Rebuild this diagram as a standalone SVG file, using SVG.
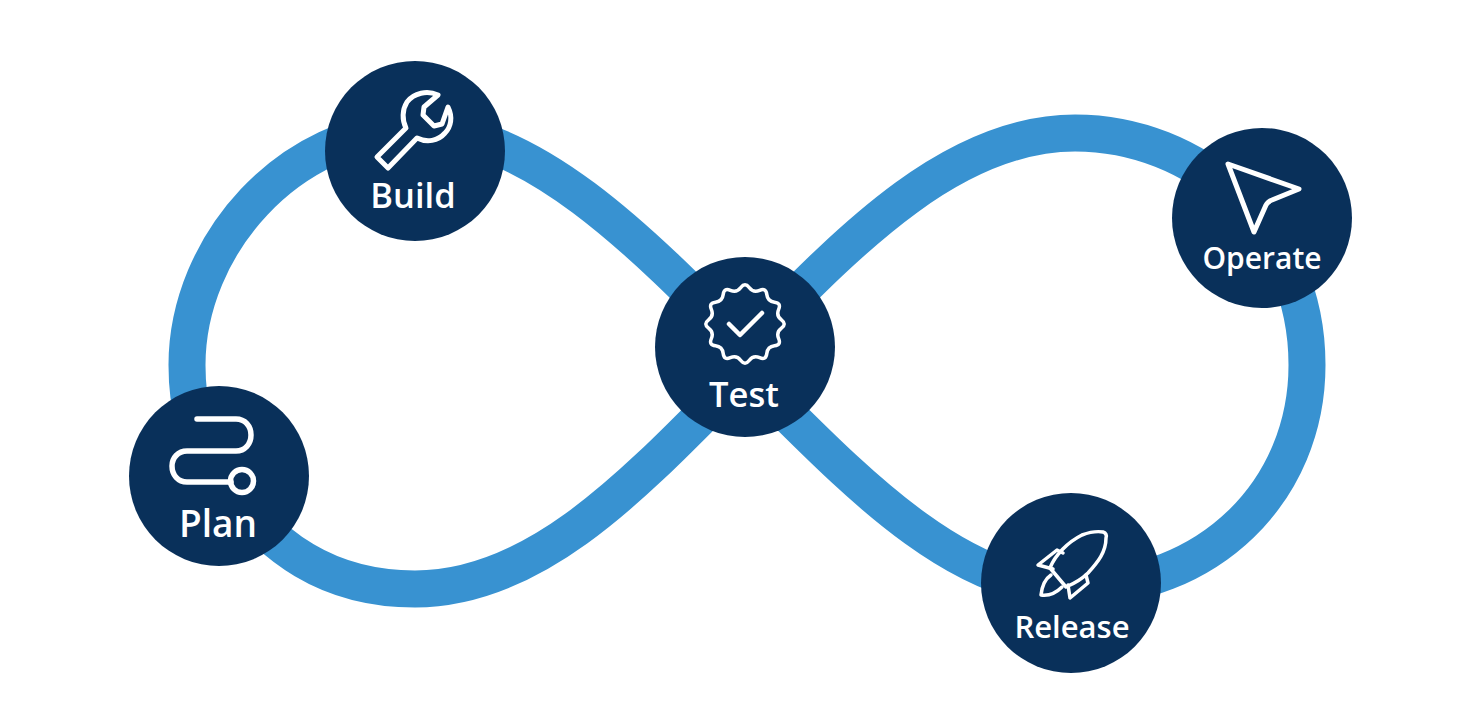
<svg xmlns="http://www.w3.org/2000/svg" width="1481" height="725" viewBox="0 0 1481 725">
<style>
.node{fill:#09305a}
.lbl{font-family:"Open Sans","Noto Sans","Liberation Sans",sans-serif;font-weight:600;fill:#fff;text-anchor:middle}
.ic{fill:none;stroke:#fff;stroke-linecap:round;stroke-linejoin:round}
</style>
<rect width="1481" height="725" fill="#fff"/>
<g id="connectors">
<path fill="none" stroke="#3892d1" stroke-width="37" d="M187,365 C187,245 290,129 415,129 C530,129 640,240 745,347 L745,372 C840,465 950,589 1071,589 C1210,589 1307,490 1307,365 C1307,225 1195,133 1075,133 C950,133 845,245 745,347 L745,372 C640,478 540,589 415,589 C330,589 270,550 219,476 C195,440 187,405 187,365 Z"/>
</g>
<g id="build">
<circle class="node" cx="415" cy="151" r="90"/>
<path class="ic" stroke-width="5" d="M377,157 L406,128 C402,120 402,110 407,102 C414,93 427,90 438,95 L424,107 L423,115 L434,126 L442,124 L448,107 C453,117 451,127 445,133 C438,141 427,143 417,138 L388,168 Z"/>
<text class="lbl" x="413" y="208" font-size="34.5">Build</text>
</g>
<g id="plan">
<circle class="node" cx="219" cy="476" r="90"/>
<path class="ic" stroke-width="5.5" d="M197,419 H236 C245,419 251,426 251,435 C251,444 245,451 236,451 H187 C178,451 172,458 172,466 C172,475 178,482 187,482 H231"/>
<circle class="ic" stroke-width="5.5" cx="242" cy="481" r="11.5"/>
<text class="lbl" x="218" y="537" font-size="37">Plan</text>
</g>
<g id="test">
<circle class="node" cx="745" cy="347" r="90"/>
<path class="ic" transform="translate(745,324)" stroke-width="3.5" d="M4.15,-36.45 Q8.3,-30.9 14.65,-33.65 Q21,-36.4 21.8,-29.5 Q22.6,-22.6 29.5,-21.8 Q36.4,-21 33.65,-14.65 Q30.9,-8.3 36.45,-4.15 Q42,0 36.45,4.15 Q30.9,8.3 33.65,14.65 Q36.4,21 29.5,21.8 Q22.6,22.6 21.8,29.5 Q21,36.4 14.65,33.65 Q8.3,30.9 4.15,36.45 Q0,42 -4.15,36.45 Q-8.3,30.9 -14.65,33.65 Q-21,36.4 -21.8,29.5 Q-22.6,22.6 -29.5,21.8 Q-36.4,21 -33.65,14.65 Q-30.9,8.3 -36.45,4.15 Q-42,0 -36.45,-4.15 Q-30.9,-8.3 -33.65,-14.65 Q-36.4,-21 -29.5,-21.8 Q-22.6,-22.6 -21.8,-29.5 Q-21,-36.4 -14.65,-33.65 Q-8.3,-30.9 -4.15,-36.45 Q0,-42 4.15,-36.45 Z"/>
<path class="ic" stroke-width="4.5" d="M729,324 L740,335 L762,313"/>
<text class="lbl" x="744" y="407" font-size="34.5">Test</text>
</g>
<g id="release">
<circle class="node" cx="1071" cy="583" r="90"/>
<path class="ic" stroke-width="3.5" d="M1050,568 C1055,555 1068,542 1082,535 C1090,532 1097,531 1103,532 C1106,533 1107,535 1106,538 C1106,552 1098,562 1088,573 C1081,580 1073,584 1066,587 Z"/>
<path class="ic" stroke-width="3.5" d="M1063,553 L1057,550 L1038,565 L1053,569"/>
<path class="ic" stroke-width="3.5" d="M1086,575 L1088,583 L1070,598 L1068,585"/>
<path class="ic" stroke-width="3.5" d="M1051,575 C1045,579 1042,586 1041,595 C1048,596 1055,594 1062,587"/>
<text class="lbl" x="1072" y="638" font-size="31">Release</text>
</g>
<g id="operate">
<circle class="node" cx="1262" cy="218" r="90"/>
<path class="ic" stroke-width="5" d="M1228,164 L1299,189 L1272,200 C1269,201 1267,203 1266,205 L1254,232 Z"/>
<text class="lbl" x="1262" y="269" font-size="30">Operate</text>
</g>
</svg>
